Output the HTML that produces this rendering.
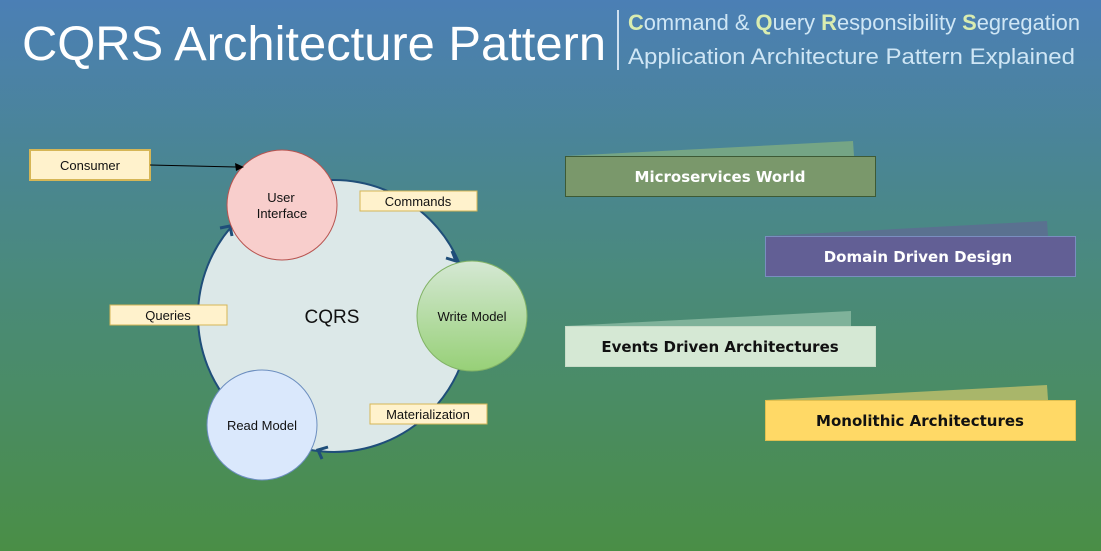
<!DOCTYPE html>
<html><head><meta charset="utf-8"><style>
html,body{margin:0;padding:0;width:1101px;height:551px;overflow:hidden}
svg{display:block}
text{font-family:"Liberation Sans",sans-serif}
.b{font-family:"DejaVu Sans","Liberation Sans",sans-serif;font-weight:bold}
</style></head><body>
<svg width="1101" height="551" viewBox="0 0 1101 551" xmlns="http://www.w3.org/2000/svg">
<defs>
<linearGradient id="bg" x1="0" y1="0" x2="0" y2="1">
<stop offset="0" stop-color="#4b7fb5"/>
<stop offset="0.5" stop-color="#4a8a7c"/>
<stop offset="1" stop-color="#4a8e46"/>
</linearGradient>
<linearGradient id="gw" x1="0" y1="0" x2="0" y2="1">
<stop offset="0" stop-color="#d5e8d4"/><stop offset="1" stop-color="#97d077"/>
</linearGradient>
</defs>
<rect width="1101" height="551" fill="url(#bg)"/>
<text x="22" y="60" font-size="48" fill="#fff" textLength="584" lengthAdjust="spacingAndGlyphs">CQRS Architecture Pattern</text>
<rect x="617" y="10" width="2" height="60" fill="#cfe0f0"/>
<text x="628" y="30" font-size="22" fill="#cfe6f5" textLength="452" lengthAdjust="spacingAndGlyphs"><tspan fill="#d9ecb0" font-weight="bold">C</tspan>ommand &amp; <tspan fill="#d9ecb0" font-weight="bold">Q</tspan>uery <tspan fill="#d9ecb0" font-weight="bold">R</tspan>esponsibility <tspan fill="#d9ecb0" font-weight="bold">S</tspan>egregation</text>
<text x="628" y="64" font-size="22" fill="#cfe6f5" textLength="447" lengthAdjust="spacingAndGlyphs">Application Architecture Pattern Explained</text>

<circle cx="334" cy="316" r="136" fill="#dce8e8" stroke="#1f4e79" stroke-width="2"/>
<polyline points="452,251 456,261 446,258" fill="none" stroke="#1f4e79" stroke-width="3"/>
<polyline points="328,447 318,450 322,459" fill="none" stroke="#1f4e79" stroke-width="3"/>
<polyline points="220,228 230,226 232,236" fill="none" stroke="#1f4e79" stroke-width="3"/>
<text x="332" y="323" font-size="19" fill="#111" text-anchor="middle">CQRS</text>

<circle cx="282" cy="205" r="55" fill="#f8cecc" stroke="#b85450" stroke-width="1"/>
<text x="281" y="202" font-size="13" text-anchor="middle" fill="#111">User</text>
<text x="282" y="218" font-size="13" text-anchor="middle" fill="#111">Interface</text>
<circle cx="472" cy="316" r="55" fill="url(#gw)" stroke="#82b366" stroke-width="1"/>
<text x="472" y="321" font-size="13" text-anchor="middle" fill="#111">Write Model</text>
<circle cx="262" cy="425" r="55" fill="#dae8fc" stroke="#6c8ebf" stroke-width="1"/>
<text x="262" y="430" font-size="13" text-anchor="middle" fill="#111">Read Model</text>

<g fill="#fff2cc" stroke="#d6b656" stroke-width="1">
<rect x="30" y="150" width="120" height="30" stroke-width="2"/>
<rect x="360" y="191" width="117" height="20"/>
<rect x="110" y="305" width="117" height="20"/>
<rect x="370" y="404" width="117" height="20"/>
</g>
<g font-size="13" fill="#111" text-anchor="middle">
<text x="90" y="170">Consumer</text>
<text x="418" y="206">Commands</text>
<text x="168" y="320">Queries</text>
<text x="428" y="419">Materialization</text>
</g>
<line x1="150" y1="165" x2="236" y2="167" stroke="#000" stroke-width="1"/>
<polygon points="244,167 235,163 236,171" fill="#000"/>

<polygon points="565,156 853,141 854,156" fill="#7aa883" opacity="0.9"/>
<rect x="565.5" y="156.5" width="310" height="40" fill="#7a986b" stroke="#3d5a35"/>
<text class="b" x="720" y="182" font-size="15" fill="#fff" text-anchor="middle">Microservices World</text>

<polygon points="765,236 1047,221 1048,236" fill="#5a7190"/>
<rect x="765.5" y="236.5" width="310" height="40" fill="#625f95" stroke="#7a8ec0"/>
<text class="b" x="918" y="262" font-size="15" fill="#fff" text-anchor="middle">Domain Driven Design</text>

<polygon points="565,326 851,311 851,326" fill="#7fb29a"/>
<rect x="565.5" y="326.5" width="310" height="40" fill="#d5e8d4" stroke="#c8dcc8"/>
<text class="b" x="720" y="352" font-size="15" fill="#111" text-anchor="middle">Events Driven Architectures</text>

<polygon points="765,400 1047,385 1048,400" fill="#a9b66a"/>
<rect x="765.5" y="400.5" width="310" height="40" fill="#ffd966" stroke="#e0c050"/>
<text class="b" x="920" y="426" font-size="15" fill="#111" text-anchor="middle">Monolithic Architectures</text>
</svg>
</body></html>
